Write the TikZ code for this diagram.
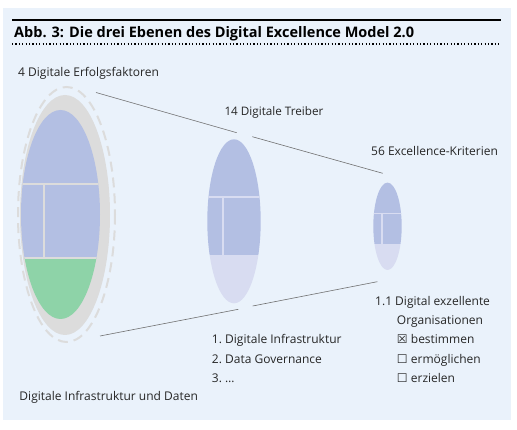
\documentclass[tikz,border=0pt]{standalone}
\usepackage{fontspec}
\setmainfont{Open Sans}
\newfontfamily\boxfont{DejaVu Sans}
\usetikzlibrary{positioning}

\definecolor{panelblue}{HTML}{EAF2FB}
\definecolor{driverblue}{HTML}{B3BFE3}
\definecolor{infragreen}{HTML}{8ED3A8}
\definecolor{ringgray}{HTML}{DCDCDC}
\definecolor{paleblue}{HTML}{D8DCF1}
\definecolor{rulegray}{HTML}{707070}

\tikzset{
	txt/.style={anchor=base west, inner sep=0pt, text=black!85, font=\fontsize{12}{15}\selectfont},
	nextline/.style={below=19pt of #1.base west, anchor=base west},
	divider/.style={line width=2pt},
	ray/.style={draw=rulegray, line width=0.6pt},
}

\begin{document}
\begin{tikzpicture}[x=1pt, y=-1pt]
	\useasboundingbox (0,0) rectangle (517,430);
	\fill[panelblue] (3,8) rectangle (511,420);
	\draw[line width=2pt] (12,20) -- (501,20);
	\draw[line width=1.2pt, dash pattern=on 1.2pt off 2.2pt] (12,44) -- (501,44);
	\node (title) [anchor=base west, inner sep=0pt, font=\fontsize{14.5}{17}\selectfont\bfseries] at (14,37.5) {Abb. 3: Die drei Ebenen des Digital Excellence Model 2.0};

	% Erfolgsfaktoren
	\draw[ringgray, line width=2pt, dash pattern=on 10pt off 6pt] (66.5,214.5) ellipse [x radius=48.5, y radius=127.5];
	\fill[ringgray] (65,215) ellipse [x radius=45, y radius=120];
	\begin{scope}
		\clip (60.5,214.5) ellipse [x radius=39.5, y radius=104.5];
		\fill[driverblue] (0,100) rectangle (130,258);
		\fill[infragreen] (0,258) rectangle (130,330);
		\draw[ringgray, divider] (0,184) -- (130,184) (44,184) -- (44,258) (0,258) -- (130,258);
	\end{scope}

	% Treiber
	\begin{scope}
		\clip (234,221.3) ellipse [x radius=26.7, y radius=82];
		\fill[driverblue] (200,130) rectangle (270,255);
		\fill[paleblue] (200,255) rectangle (270,310);
		\draw[paleblue, divider] (200,197.3) -- (270,197.3) (223.3,197.3) -- (223.3,255);
	\end{scope}

	% Kriterien
	\begin{scope}
		\clip (387.5,226.3) ellipse [x radius=14.2, y radius=43.7];
		\fill[driverblue] (370,180) rectangle (405,244);
		\fill[paleblue] (370,244) rectangle (405,275);
		\draw[paleblue, line width=1.5pt] (370,213.3) -- (405,213.3) (382,213.3) -- (382,244);
	\end{scope}

	\coordinate (big top) at (96,92.5);
	\coordinate (mid top in) at (236.7,132.7);
	\coordinate (mid top out) at (252.3,136.7);
	\coordinate (small top) at (382.7,173.3);
	\coordinate (big bottom) at (100,336);
	\coordinate (mid bottom in) at (238.3,309.3);
	\coordinate (mid bottom out) at (252.7,306);
	\coordinate (small bottom) at (377.3,281.7);

	\draw[ray] (big top) -- (mid top in);
	\draw[ray] (mid top out) -- (small top);
	\draw[ray] (big bottom) -- (mid bottom in);
	\draw[ray] (mid bottom out) -- (small bottom);

	\node (factors) [txt] at (18,77) {4 Digitale Erfolgsfaktoren};
	\node (drivers) [txt, font=\fontsize{11.7}{15}\selectfont] at (224.3,115.7) {14 Digitale Treiber};
	\node (criteria) [txt] at (371,156) {56 Excellence-Kriterien};
	\node (infra) [txt] at (19.3,400) {Digitale Infrastruktur und Daten};

	\node (d1) [txt] at (211.7,344) {\makebox[13.3pt][l]{1.}Digitale Infrastruktur};
	\node (d2) [txt, nextline=d1] {\makebox[13.3pt][l]{2.}Data Governance};
	\node (d3) [txt, nextline=d2] {\makebox[13.3pt][l]{3.}…};

	\node (c1) [txt] at (375,306) {1.1 Digital exzellente};
	\node (c2) [txt] at (396.7,325) {Organisationen};
	\node (c3) [txt, nextline=c2] {\makebox[14pt][l]{\boxfont\fontsize{12}{12}\selectfont ☒}bestimmen};
	\node (c4) [txt, nextline=c3] {\makebox[14pt][l]{\boxfont\fontsize{12}{12}\selectfont ☐}ermöglichen};
	\node (c5) [txt, nextline=c4] {\makebox[14pt][l]{\boxfont\fontsize{12}{12}\selectfont ☐}erzielen};
\end{tikzpicture}
\end{document}
